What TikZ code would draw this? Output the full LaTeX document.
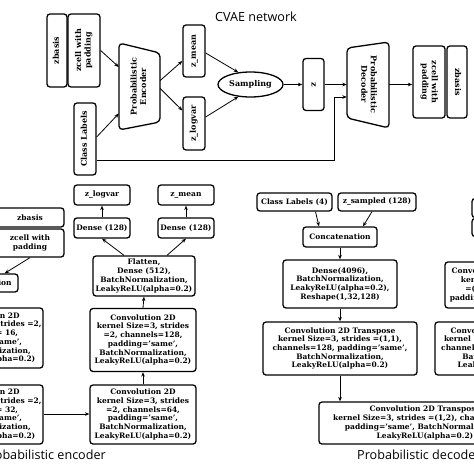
\documentclass[tikz,border=0pt]{standalone}
\usepackage{fontspec}
\setmainfont{DejaVu Serif}
\newfontfamily\capfont{Open Sans}
\usetikzlibrary{arrows.meta,calc,shapes.geometric}
\newcommand\topfont{\bfseries\fontsize{8}{9.5}\selectfont}
\newcommand\boxfont{\bfseries\fontsize{7.5}{8.7}\selectfont}
\newcommand\rotL[1]{\rotatebox{90}{\begin{tabular}{@{}c@{}}#1\end{tabular}}}
\newcommand\rotR[1]{\rotatebox{-90}{\begin{tabular}{@{}c@{}}#1\end{tabular}}}
\begin{document}
\begin{tikzpicture}[x=1pt,y=-1pt,
  bx/.style 2 args={draw, line width=1.3pt, rounded corners=3pt, inner sep=0pt,
    align=center, minimum width=#1, minimum height=#2},
  tb/.style 2 args={bx={#1}{#2}, font=\topfont},
  lb/.style 2 args={bx={#1}{#2}, font=\boxfont},
  ghost/.style 2 args={inner sep=0pt, minimum width=#1, minimum height=#2, font=\topfont},
  trap/.style={line width=1.3pt, rounded corners=4pt},
  arr/.style={-{Stealth[length=4.5pt,width=3.6pt]}, line width=0.8pt},
  captxt/.style={font=\capfont\fontsize{12.6}{14}\selectfont, inner sep=0pt}]
\useasboundingbox (0,0) rectangle (474,474);
\clip (0,0) rectangle (474,474);

% ---------------- CVAE network ----------------
\node[captxt] (title) at (256,17) {CVAE network};
\node[tb={20pt}{73pt}] (tzb) at (57,50.5) {\rotL{zbasis}};
\node[tb={32pt}{73pt}] (tzc) at (84,50.5) {\rotL{zcell with\\padding}};
\node[tb={22pt}{72pt}] (cls) at (85,139) {\rotL{Class Labels}};
\draw[trap] (119,43) -- (160,53) -- (160,122) -- (119,130) -- cycle;
\node[ghost={41pt}{87pt}] (enc) at (139.5,86.5) {\rotL{Probabilistic\\Encoder}};
\node[tb={22pt}{52pt}] (zm) at (194,51) {\rotL{z\_mean}};
\node[tb={22pt}{53pt}] (zlv) at (194,123.5) {\rotL{z\_logvar}};
\node[draw, ellipse, line width=1.3pt, minimum width=65pt, minimum height=25pt,
  inner sep=0pt, font=\topfont] (samp) at (250.5,84.5) {Sampling};
\node[tb={21pt}{52pt}] (zb) at (313.5,84.5) {\rotR{z}};
\draw[trap] (347,48) -- (389,42) -- (389,128) -- (347,118) -- cycle;
\node[ghost={42pt}{86pt}] (dec) at (368,84.5) {\rotR{Probabilistic\\Decoder}};
\node[tb={32pt}{72pt}] (ozc) at (429,82) {\rotR{zcell with\\padding}};
\node[tb={20pt}{72pt}] (ozb) at (457,82) {\rotR{zbasis}};

\draw[arr] (tzc.east) -- ($(enc.west)+(0,-19.5)$);
\draw[arr] ($(cls.east)+(0,-2)$) -- ($(enc.west)+(0,27)$);
\draw[arr] ($(enc.east)+(0,-6)$) -- ($(zm.west)+(0,10)$);
\draw[arr] ($(enc.east)+(0,2)$) -- ($(zlv.west)+(0,-13)$);
\draw[arr] ($(zm.east)+(0,2)$) -- (samp.135);
\draw[arr] ($(zlv.east)+(0,-6.5)$) -- (samp.225);
\draw[arr] (samp.east) -- (zb.west);
\draw[arr] (zb.east) -- (dec.west);
\draw[arr] (dec.east) -- (ozc.west |- dec.east);
\draw[arr] ($(cls.east)+(0,21)$) -| ($(dec.west)+(-12,12.5)$) -- ($(dec.west)+(0,12.5)$);

% ---------------- Probabilistic encoder ----------------
\node[lb={68pt}{19pt}] (ezb) at (30,217.5) {zbasis};
\node[lb={68pt}{28pt}] (ezc) at (30,243) {zcell with\\padding};
\node[lb={74pt}{18pt}] (ecat) at (-19,283) {Concatenation};
\node[lb={112pt}{60pt}] (ec16) at (-13,338) {Convolution 2D\\kernel Size=3, strides =2,\\channels = 16,\\padding='same',\\BatchNormalization,\\LeakyReLU(alpha=0.2)};
\node[lb={112pt}{59pt}] (ec32) at (-13,414.5) {Convolution 2D\\kernel Size=3, strides =2,\\channels = 32,\\padding='same',\\BatchNormalization,\\LeakyReLU(alpha=0.2)};
\node[lb={106pt}{59pt}] (ec64) at (143,414.5) {Convolution 2D\\kernel Size=3, strides\\=2, channels=64,\\padding='same',\\BatchNormalization,\\LeakyReLU(alpha=0.2)};
\node[lb={106pt}{63pt}] (ec128) at (143,340) {Convolution 2D\\kernel Size=3, strides\\=2, channels=128,\\padding='same',\\BatchNormalization,\\LeakyReLU(alpha=0.2)};
\node[lb={102pt}{40pt}] (efl) at (144,276) {Flatten,\\Dense (512),\\BatchNormalization,\\LeakyReLU(alpha=0.2)};
\node[lb={56pt}{20pt}] (edl) at (102,228) {Dense (128)};
\node[lb={56pt}{20pt}] (edr) at (186,228) {Dense (128)};
\node[lb={56pt}{20pt}] (ezlv) at (102,195) {z\_logvar};
\node[lb={56pt}{20pt}] (ezm) at (186,195) {z\_mean};
\node[captxt, anchor=east] (ecap) at (106,455) {Probabilistic encoder};

\draw[arr] (ezc.south) -- ($(ecat.north east)+(-14,0)$);
\draw[arr] (ec32.east |- 0,414) -- (ec64.west |- 0,414);
\draw[arr] (ec64.north) -- (ec128.south);
\draw[arr] (ec128.north) -- (efl.south);
\draw[arr] ($(efl.north)+(-20,0)$) -- (edl.south);
\draw[arr] ($(efl.north)+(23,0)$) -- (edr.south);
\draw[arr] (edl.north) -- (ezlv.south);
\draw[arr] (edr.north) -- (ezm.south);

% ---------------- Probabilistic decoder ----------------
\node[lb={75pt}{18pt}] (dcl) at (294.5,202) {Class Labels (4)};
\node[lb={78pt}{18pt}] (dzs) at (377,202) {z\_sampled (128)};
\node[lb={74pt}{20pt}] (dcat) at (340,237) {Concatenation};
\node[lb={114pt}{48pt}] (dden) at (340,284) {Dense(4096),\\BatchNormalization,\\LeakyReLU(alpha=0.2),\\Reshape(1,32,128)};
\node[lb={154pt}{53pt}] (dt1) at (340,348.5) {Convolution 2D Transpose\\kernel Size=3, strides =(1,1),\\channels=128, padding='same',\\BatchNormalization,\\LeakyReLU(alpha=0.2)};
\node[lb={212pt}{42pt}] (dt2) at (425,423) {Convolution 2D Transpose\\kernel Size=3, strides =(1,2), channels=64,\\padding='same', BatchNormalization,\\LeakyReLU(alpha=0.2)};
\node[lb={142pt}{53pt}] (dt3) at (506,348.5) {Convolution 2D Transpose\\kernel Size=3, strides =(1,2),\\channels=32, padding='same',\\BatchNormalization,\\LeakyReLU(alpha=0.2)};
\node[lb={124pt}{46pt}] (dt4) at (507,285) {Convolution 2D Transpose\\kernel Size=3, strides\\=(1,1), channels=1,\\padding='same', activation};
\node[lb={60pt}{19pt}] (dzc) at (502,208) {};
\node[lb={60pt}{18pt}] (dzb) at (502,227.5) {};
\node[captxt, anchor=west] (dcap) at (357,455) {Probabilistic decoder};

\draw[arr] ($(dcl.south)+(21,0)$) -- ($(dcat.north)+(-21,0)$);
\draw[arr] ($(dzs.south)+(-5,0)$) -- ($(dcat.north)+(23,0)$);
\draw[arr] (dcat.south) -- (dden.north);
\draw[arr] (dden.south) -- (dt1.south |- dt1.north);
\draw[arr] (dt1.south) -- (dt1.south |- dt2.north);
\end{tikzpicture}
\end{document}
